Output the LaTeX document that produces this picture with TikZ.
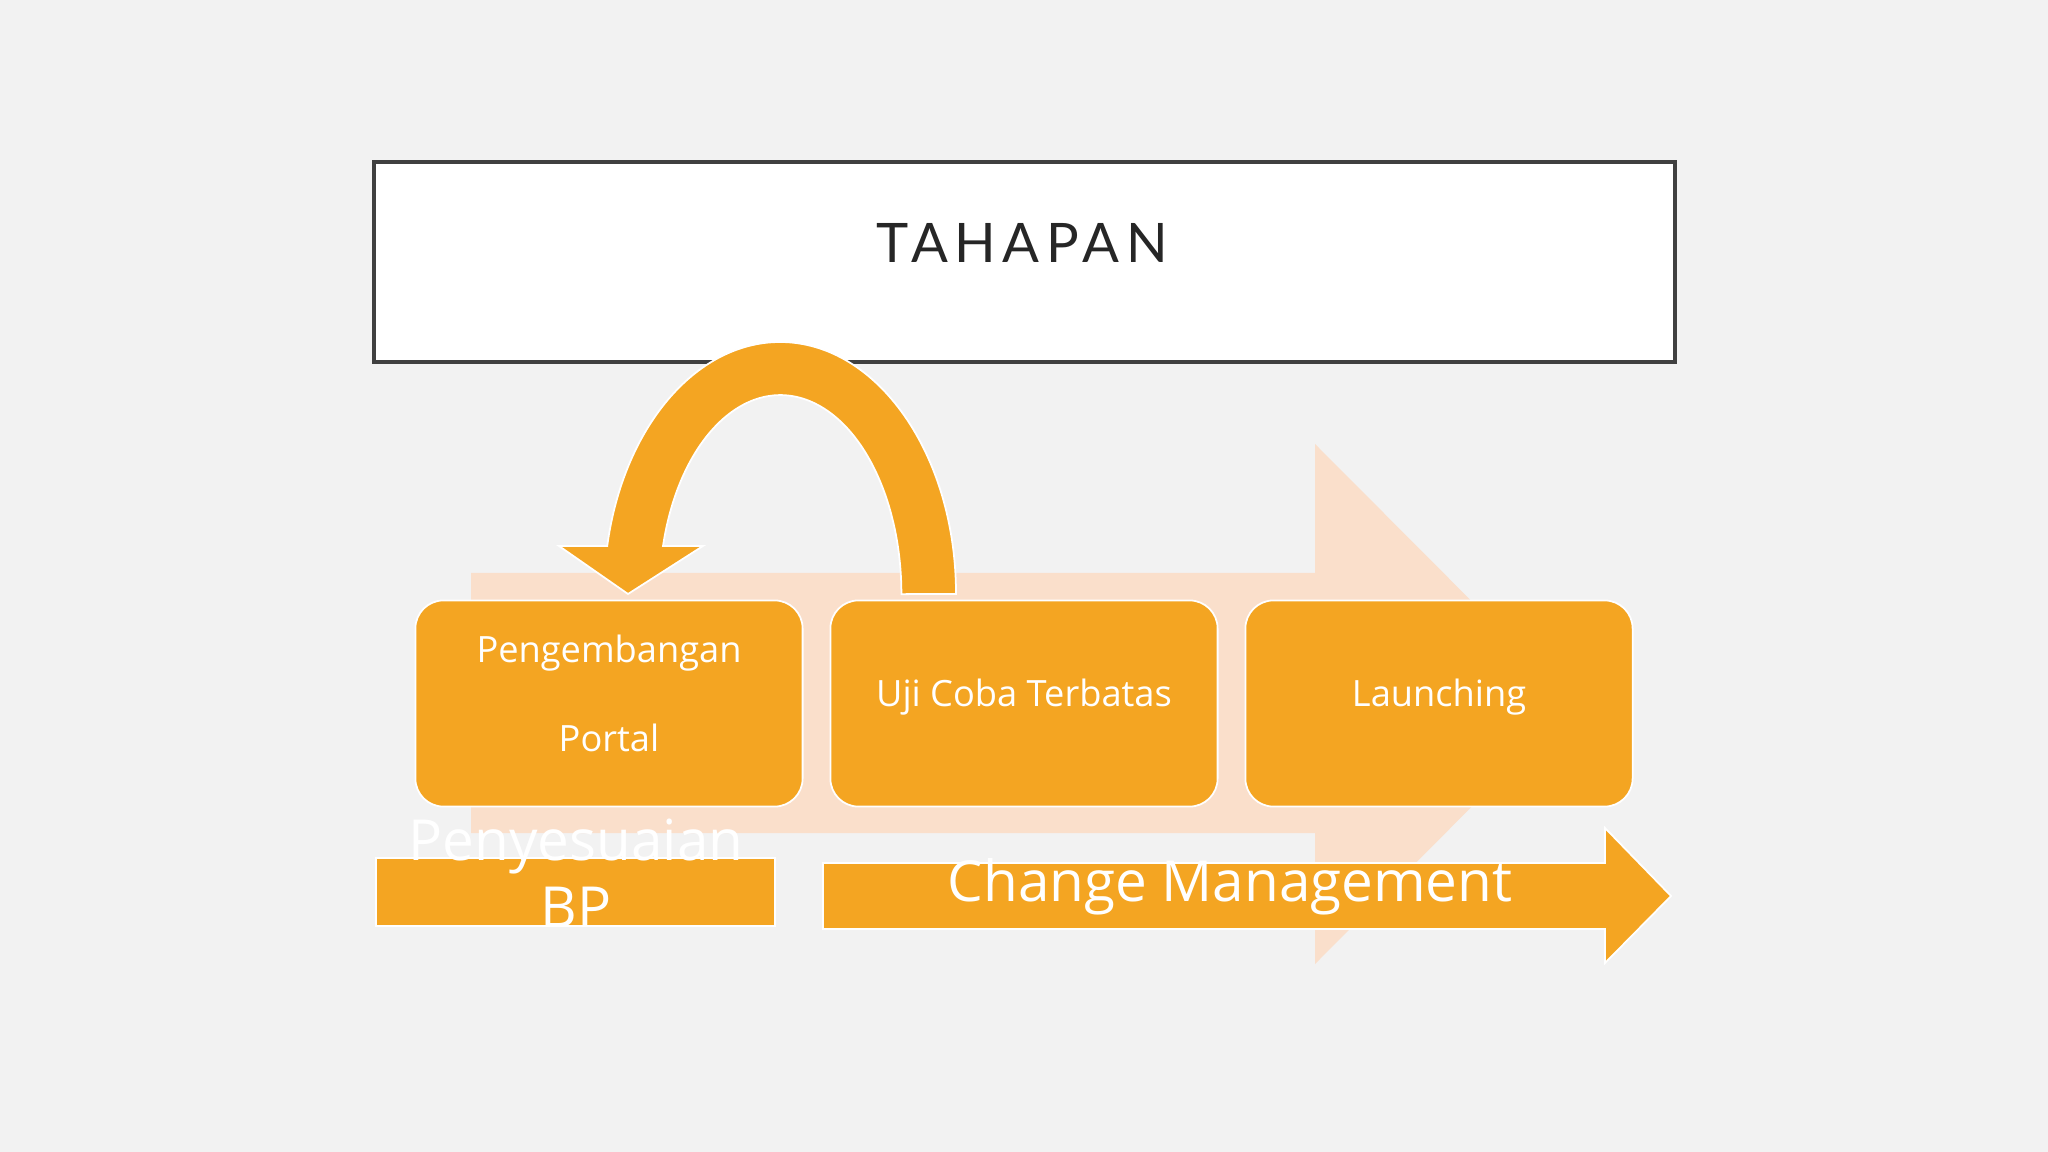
\documentclass[tikz,border=0pt]{standalone}
\usepackage{fontspec}
\usepackage{xcolor}
\setmainfont{Open Sans}
\newfontfamily\titlefont[LetterSpace=12]{Lato}
\definecolor{bgcol}{HTML}{F2F2F2}
\definecolor{framecol}{HTML}{404040}
\definecolor{titlecol}{HTML}{262626}
\definecolor{stagecol}{HTML}{F4A522}
\definecolor{peachcol}{HTML}{FADFCB}
\tikzset{
  stage/.style={draw=white, line width=0.5pt, fill=stagecol, rounded corners=0.28cm,
    minimum width=3.87cm, minimum height=2.06cm, inner sep=0pt},
  boxtext/.style={text=white, inner sep=0pt, font=\fontsize{10.3}{12}\selectfont,
    text height=7.3pt, text depth=0pt},
  bigtext/.style={text=white, inner sep=0pt, font=\fontsize{16.1}{19}\selectfont,
    text height=11.5pt, text depth=0pt},
}
\begin{document}
\begin{tikzpicture}[x=0.01cm, y=-0.01cm]
\fill [bgcol] (0, 0) rectangle (2048, 1152);
\useasboundingbox (0, 0) rectangle (2048, 1152);
\draw [framecol, fill=white, line width=1.2pt] (374, 162) rectangle (1675, 362);
\node [inner sep=0pt, text=titlecol, font=\titlefont\fontsize{15.5}{18}\selectfont,
  text height=11.2pt, text depth=0pt] (title) at (1022, 243) {TAHAPAN};
\fill [peachcol] (471, 573) -- (1315, 573) -- (1315, 444) -- (1574, 704)
  -- (1315, 964) -- (1315, 833) -- (471, 833) -- cycle;
\filldraw [fill=stagecol, draw=white, line width=0.5pt] (956, 594)
  arc [start angle=0, end angle=-169, x radius=176, y radius=252]
  -- (559, 546) -- (628, 594) -- (703, 546) -- (663, 546)
  arc [start angle=-166, end angle=0, x radius=121, y radius=199] -- cycle;
\node [stage] (portal) at (609, 703.5) {};
\node [stage] (uji) at (1024, 703.5) {};
\node [stage] (launch) at (1439, 703.5) {};
\node [boxtext] (portal1) at (609, 649.5) {Pengembangan};
\node [boxtext] (portal2) at (609, 739) {Portal};
\node [boxtext] (ujitext) at (1024, 694) {Uji Coba Terbatas};
\node [boxtext] (launchtext) at (1439, 694) {Launching};
\filldraw [fill=stagecol, draw=white, line width=0.5pt] (376, 858) rectangle (775, 926);
\filldraw [fill=stagecol, draw=white, line width=0.5pt] (823, 863) -- (1605, 863)
  -- (1605, 828) -- (1671, 896) -- (1605, 963) -- (1605, 929) -- (823, 929) -- cycle;
\node [bigtext] (bp1) at (576, 840) {Penyesuaian};
\node [bigtext] (bp2) at (576, 907) {BP};
\node [bigtext] (change) at (1230, 881) {Change Management};
\end{tikzpicture}
\end{document}
